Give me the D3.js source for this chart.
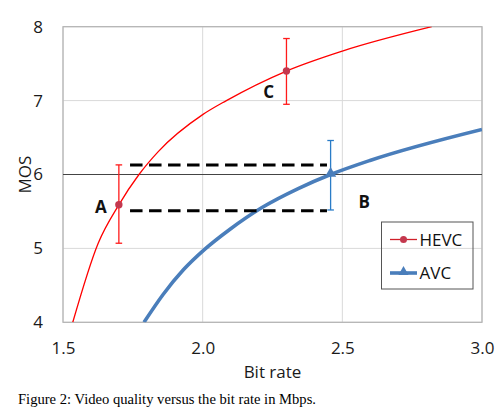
<!DOCTYPE html>
<html>
<head>
<meta charset="utf-8">
<script src="https://cdn.jsdelivr.net/npm/d3@7"></script>
<style>
  body { margin: 0; background: #fff; }
  svg { display: block; }
</style>
</head>
<body>
<div id="chart"></div>
<script>
// axis ticks
const xTicks = [1.5, 2.0, 2.5, 3.0];
const yTicks = [4, 5, 6, 7, 8];

// HEVC curve (bit rate in Mbps, MOS)
const hevcRate = [1.535, 1.626, 1.70, 1.772, 1.841, 2.0,  2.085, 2.30, 2.5,  2.82];
const hevcMos  = [4.0,   5.07,  5.59, 6.0,   6.31,  6.81, 7.0,   7.40, 7.67, 8.0];

// AVC curve
const avcRate = [1.790, 1.859, 1.931, 2.008, 2.098, 2.211, 2.342, 2.458, 2.599, 3.0];
const avcMos  = [4.0,   4.38,  4.71,  4.99,  5.26,  5.55,  5.81,  6.0,   6.19,  6.61];

// measured points with error bars
const pointNames = ["A", "C", "B"];
const pointCodec = ["HEVC", "HEVC", "AVC"];
const pointRate  = [1.70, 2.30, 2.458];
const pointMos   = [5.59, 7.40, 6.0];
const pointLow   = [5.07, 6.95, 5.52];
const pointHigh  = [6.13, 7.84, 6.46];

// point labels (data coordinates)
const labelRate = [1.636, 2.236, 2.578];
const labelMos  = [5.48, 7.03, 5.55];

// dashed guide lines between the error-bar ends
const guideMos = [6.13, 5.51];
const guideFrom = 1.74;
const guideTo = 2.445;

const refMos = 6; // highlighted reference level

const width = 503, height = 416;
const margin = {top: 26.7, right: 21, bottom: 93.7, left: 63};
const font = "'Open Sans', sans-serif";

const x = d3.scaleLinear().domain([1.5, 3.0]).range([margin.left, width - margin.right]);
const y = d3.scaleLinear().domain([4, 8]).range([height - margin.bottom, margin.top]);

const svg = d3.select("#chart").append("svg")
    .attr("width", width)
    .attr("height", height);

svg.append("rect").attr("width", width).attr("height", height).attr("fill", "#fff");

svg.append("clipPath").attr("id", "plot-clip")
  .append("rect")
    .attr("x", x(1.5)).attr("y", y(8))
    .attr("width", x(3.0) - x(1.5)).attr("height", y(4) - y(8));

// grid
const grid = svg.append("g");
grid.selectAll(".gx").data(xTicks).join("line")
    .attr("x1", d => x(d)).attr("x2", d => x(d))
    .attr("y1", y(8)).attr("y2", y(4))
    .attr("stroke", "#d9d9d9").attr("stroke-width", 1);
grid.selectAll(".gy").data(yTicks).join("line")
    .attr("x1", x(1.5)).attr("x2", x(3.0))
    .attr("y1", d => y(d)).attr("y2", d => y(d))
    .attr("stroke", "#d9d9d9").attr("stroke-width", 1);

// plot border
svg.append("rect")
    .attr("x", x(1.5)).attr("y", y(8))
    .attr("width", x(3.0) - x(1.5)).attr("height", y(4) - y(8))
    .attr("fill", "none").attr("stroke", "#b3b3b3").attr("stroke-width", 1.2);

// reference line at MOS 6
svg.append("line")
    .attr("x1", x(1.5)).attr("x2", x(3.0))
    .attr("y1", y(refMos)).attr("y2", y(refMos))
    .attr("stroke", "#444").attr("stroke-width", 1);

// axes labels
const xAxis = d3.axisBottom(x).tickValues(xTicks).tickFormat(d3.format(".1f")).tickSize(0).tickPadding(20);
svg.append("g").attr("transform", `translate(0,${y(4)})`).call(xAxis)
    .call(g => g.select(".domain").remove())
    .call(g => g.selectAll("text").attr("font-family", font).attr("font-size", 17).attr("fill", "#1a1a1a"));

const yAxis = d3.axisLeft(y).tickValues(yTicks).tickFormat(d3.format("d")).tickSize(0).tickPadding(20);
svg.append("g").attr("transform", `translate(${x(1.5)},0)`).call(yAxis)
    .call(g => g.select(".domain").remove())
    .call(g => g.selectAll("text").attr("font-family", font).attr("font-size", 17).attr("fill", "#1a1a1a"));

svg.append("text")
    .attr("x", (x(1.5) + x(3.0)) / 2).attr("y", 378)
    .attr("text-anchor", "middle")
    .attr("font-family", font).attr("font-size", 17).attr("fill", "#1a1a1a")
    .text("Bit rate");

svg.append("text")
    .attr("transform", `translate(30.5,${(y(4) + y(8)) / 2}) rotate(-90)`)
    .attr("text-anchor", "middle")
    .attr("font-family", font).attr("font-size", 17).attr("fill", "#1a1a1a")
    .text("MOS");

// curves
const plot = svg.append("g").attr("clip-path", "url(#plot-clip)");
const line = d3.line().x(d => x(d[0])).y(d => y(d[1])).curve(d3.curveMonotoneX);

plot.append("path")
    .datum(avcRate.map((r, i) => [r, avcMos[i]]))
    .attr("d", line)
    .attr("fill", "none").attr("stroke", "#4a7ebb").attr("stroke-width", 3.6);

plot.append("path")
    .datum(hevcRate.map((r, i) => [r, hevcMos[i]]))
    .attr("d", line)
    .attr("fill", "none").attr("stroke", "#ff0000").attr("stroke-width", 1.3);

// dashed guides
svg.selectAll(".guide").data(guideMos).join("line")
    .attr("x1", x(guideFrom)).attr("x2", x(guideTo))
    .attr("y1", d => y(d)).attr("y2", d => y(d))
    .attr("stroke", "#000").attr("stroke-width", 3)
    .attr("stroke-dasharray", "12.5,6.5");

// error bars and markers
const points = pointNames.map((n, i) => ({
  name: n, codec: pointCodec[i], rate: pointRate[i], mos: pointMos[i],
  low: pointLow[i], high: pointHigh[i]
}));
const barColor = d => d.codec === "HEVC" ? "#ff1a1a" : "#2a7cc7";

const bars = svg.selectAll(".err").data(points).join("g");
bars.append("line")
    .attr("x1", d => x(d.rate)).attr("x2", d => x(d.rate))
    .attr("y1", d => y(d.low)).attr("y2", d => y(d.high))
    .attr("stroke", barColor).attr("stroke-width", 1.3);
bars.selectAll(".cap").data(d => [[d, d.low], [d, d.high]]).join("line")
    .attr("x1", d => x(d[0].rate) - 3.3).attr("x2", d => x(d[0].rate) + 3.3)
    .attr("y1", d => y(d[1])).attr("y2", d => y(d[1]))
    .attr("stroke", d => barColor(d[0])).attr("stroke-width", 1.3);

bars.filter(d => d.codec === "HEVC").append("circle")
    .attr("cx", d => x(d.rate)).attr("cy", d => y(d.mos)).attr("r", 3.7)
    .attr("fill", "#c4384e");
bars.filter(d => d.codec === "AVC").append("path")
    .attr("d", d3.symbol(d3.symbolTriangle, 55))
    .attr("transform", d => `translate(${x(d.rate)},${y(d.mos) - 1})`)
    .attr("fill", "#4a7ebb");

// point labels
svg.selectAll(".plabel").data(pointNames).join("text")
    .attr("x", (d, i) => x(labelRate[i])).attr("y", (d, i) => y(labelMos[i]))
    .attr("text-anchor", "middle")
    .attr("font-family", font).attr("font-size", 17).attr("font-weight", "bold").attr("fill", "#111")
    .text(d => d);

// legend
const legend = svg.append("g");
legend.append("rect")
    .attr("x", 381.5).attr("y", 222).attr("width", 91.5).attr("height", 67)
    .attr("fill", "none").attr("stroke", "#555").attr("stroke-width", 1);

const legendItems = [
  {name: "HEVC", cy: 239.5, color: "#d0202a", width: 1.3},
  {name: "AVC", cy: 273, color: "#4a7ebb", width: 3.6}
];
const li = legend.selectAll(".li").data(legendItems).join("g");
li.append("line")
    .attr("x1", 390).attr("x2", 417)
    .attr("y1", d => d.cy).attr("y2", d => d.cy)
    .attr("stroke", d => d.color).attr("stroke-width", d => d.width);
li.filter(d => d.name === "HEVC").append("circle")
    .attr("cx", 403.5).attr("cy", d => d.cy).attr("r", 3.5).attr("fill", "#c4384e");
li.filter(d => d.name === "AVC").append("path")
    .attr("d", d3.symbol(d3.symbolTriangle, 45))
    .attr("transform", d => `translate(403.5,${d.cy - 1})`)
    .attr("fill", "#4a7ebb");
li.append("text")
    .attr("x", 419.5).attr("y", d => d.cy + 6.3)
    .attr("font-family", font).attr("font-size", 17).attr("fill", "#111")
    .text(d => d.name);

// caption
svg.append("text")
    .attr("x", 18).attr("y", 404)
    .attr("font-family", "'Liberation Serif', 'Times New Roman', serif")
    .attr("font-size", 14.6).attr("fill", "#000")
    .text("Figure 2: Video quality versus the bit rate in Mbps.");
</script>
</body>
</html>
